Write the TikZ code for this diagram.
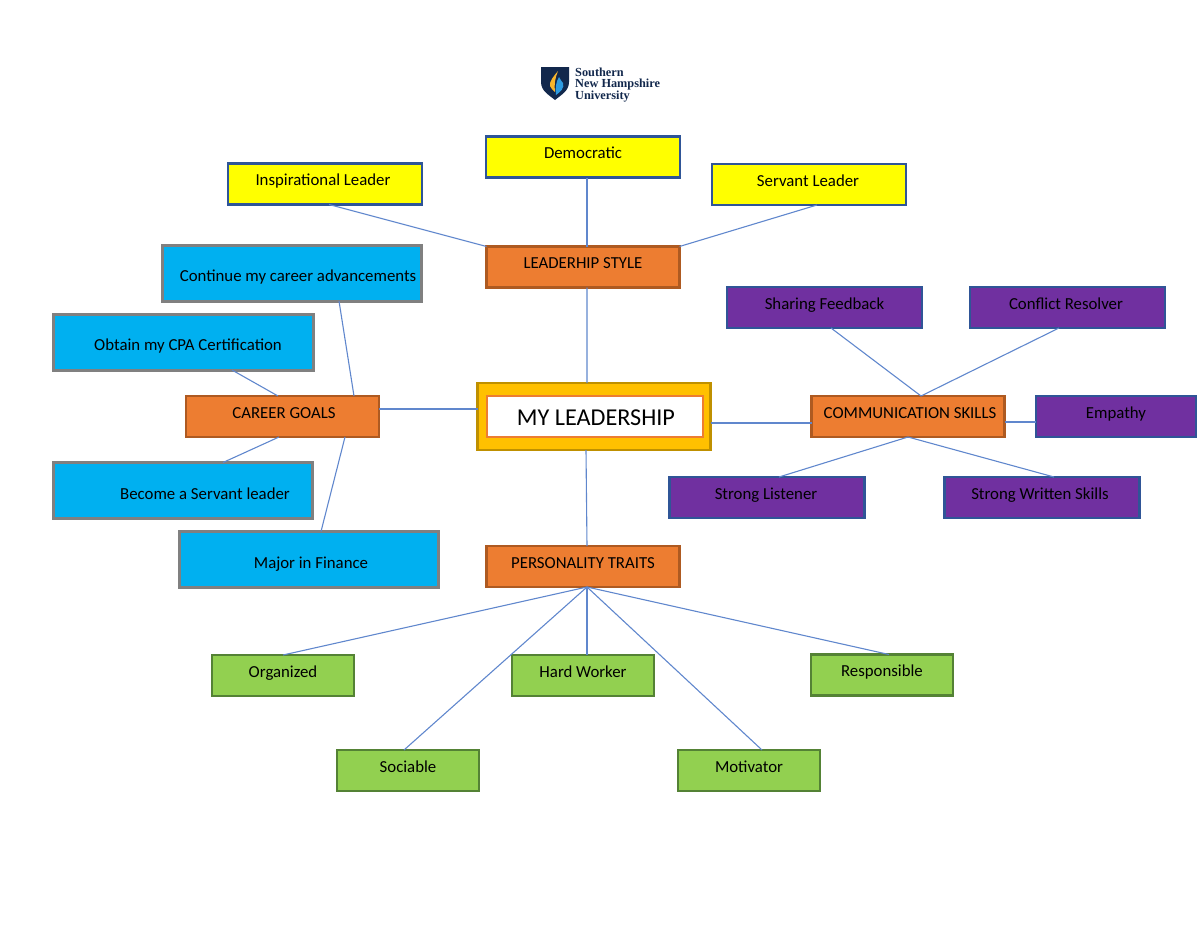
\documentclass[tikz,border=0pt]{standalone}
\usepackage{fontspec}
\setmainfont{Carlito}
\newfontfamily\logofont{Liberation Serif}
\definecolor{linkblue}{HTML}{4472C4}
\definecolor{darkblue}{HTML}{2F5597}
\definecolor{navy}{HTML}{12284C}
\definecolor{leaderyellow}{HTML}{FFFF00}
\definecolor{topicorange}{HTML}{ED7D31}
\definecolor{goalblue}{HTML}{00B0F0}
\definecolor{skillpurple}{HTML}{7030A0}
\definecolor{traitgreen}{HTML}{92D050}
\definecolor{flameyellow}{HTML}{F7B52C}
\definecolor{flameblue}{HTML}{2E9BE0}
\tikzset{
  box/.style={shape=rectangle, minimum height=41bp, inner sep=0pt, outer sep=0pt,
              line width=2.4bp, font=\fontsize{16.8bp}{19bp}\selectfont,
              text height=10bp, text depth=7bp},
  leader/.style={box, fill=leaderyellow, draw=darkblue, minimum width=194bp},
  topic/.style={box, fill=topicorange, draw={rgb,255:red,174;green,90;blue,33}, minimum width=193bp},
  goal/.style={box, fill=goalblue, draw=gray, line width=3bp, minimum width=259bp,
               minimum height=56bp, text height=17bp, text depth=0bp},
  skill/.style={box, fill=skillpurple, draw=darkblue, minimum width=195bp},
  trait/.style={box, fill=traitgreen, draw={rgb,255:red,84;green,130;blue,53}, minimum width=142bp},
  link/.style={draw=linkblue!85!white, line width=1.1bp}
}
\begin{document}
\begin{tikzpicture}[x=1bp,y=-1bp]
\useasboundingbox (0,0) rectangle (1200,927);

% logo
\fill[navy] (541,67) -- (569,67) -- (569,82) .. controls (569,91) and (561,95) .. (555,100)
  .. controls (549,95) and (541,91) .. (541,82) -- cycle;
\fill[flameblue] (559,77) .. controls (556,82) and (555,88) .. (556,95) .. controls (560,92) and (565,88) .. (563,83)
  .. controls (562,81) and (560,80) .. (559,77) -- cycle;
\fill[flameyellow] (558,71) .. controls (554,76) and (549,81) .. (550,86) .. controls (551,89) and (553,90) .. (555,92)
  .. controls (554,85) and (555,78) .. (558,71) -- cycle;
\node[anchor=north west, inner sep=0pt, align=left, text=navy,
      font=\logofont\bfseries\fontsize{12.3bp}{11.5bp}\selectfont] (logotext) at (575,67.5)
  {Southern\\New Hampshire\\University};

% center
\node[shape=rectangle, minimum width=233bp, minimum height=67bp, fill={rgb,255:red,255;green,192;blue,0},
      draw={rgb,255:red,191;green,144;blue,0}, line width=2.4bp, outer sep=0pt] (outer) at (594,416.5) {};
\node[shape=rectangle, minimum width=216bp, minimum height=41bp, fill=white,
      draw=topicorange, line width=1.8bp, outer sep=0pt, inner sep=0pt,
      text height=19bp, text depth=1bp,
      font=\fontsize{24.2bp}{27bp}\selectfont] (main) at (595,416.5) {\hspace*{2bp}MY LEADERSHIP};

% topics
\node[topic] (style) at (583,267) {LEADERHIP STYLE};
\node[topic] (career) at (282.5,416.5) {\hspace*{3bp}CAREER GOALS};
\node[topic] (comm) at (908,416.5) {\hspace*{4bp}COMMUNICATION SKILLS};
\node[topic] (traits) at (583,566.5) {PERSONALITY TRAITS};

% leadership style
\node[leader] (insp) at (325,184) {\hspace*{-4bp}Inspirational Leader};
\node[leader] (demo) at (583,157) {Democratic};
\node[leader] (serv) at (809,184.5) {\hspace*{-2bp}Servant Leader};

% career goals
\node[goal] (cont) at (291.5,273) {\hspace*{13bp}Continue my career advancements};
\node[goal] (cpa) at (183.5,342) {\hspace*{9bp}Obtain my CPA Certification};
\node[goal] (become) at (183,490.5) {\hspace*{44bp}Become a Servant leader};
\node[goal] (major) at (308.5,559.5) {\hspace*{5bp}Major in Finance};

% communication
\node[skill] (share) at (824.5,307.5) {Sharing Feedback};
\node[skill] (conf) at (1067.5,307.5) {\hspace*{-3bp}Conflict Resolver};
\node[skill, minimum width=160bp] (emp) at (1116,416.5) {Empathy};
\node[skill] (listen) at (767,497.5) {\hspace*{-2bp}Strong Listener};
\node[skill] (write) at (1042,497.5) {\hspace*{-4bp}Strong Written Skills};

% traits
\node[trait] (org) at (283,675.5) {Organized};
\node[trait] (hard) at (583,675.5) {Hard Worker};
\node[trait] (resp) at (882,675) {Responsible};
\node[trait] (soc) at (408,770.5) {Sociable};
\node[trait] (motiv) at (749,770.5) {Motivator};

%-----------------------------
\draw[link] ([xshift=4bp]demo.south) -- ([xshift=4bp]style.north);
\draw[link] ([xshift=4bp]style.south) -- ([xshift=-7bp]outer.north);
\draw[link] ([xshift=4bp]traits.north) -- ([xshift=-8bp]outer.south);
\draw[link] ([yshift=7.5bp]career.east) -- ([yshift=7.5bp]outer.west);
\draw[link] ([yshift=-6.5bp]outer.east) -- ([yshift=-6.5bp]comm.west);
%-----------------------------
\draw[link] ([xshift=4bp]insp.south) -- (style.north west);
\draw[link] ([xshift=8bp]serv.south) -- (style.north east);
%-----------------------------
\draw[link] ([xshift=47.5bp]cont.south) -- ([xshift=71.5bp]career.north);
\draw[link] ([xshift=48.5bp]cpa.south) -- ([xshift=-4.5bp]career.north);
\draw[link] ([xshift=40bp]become.north) -- ([xshift=-3.5bp]career.south);
\draw[link] ([xshift=12.5bp]major.north) -- ([xshift=62.5bp]career.south);
%-----------------------------
\draw[link] ([xshift=6.5bp]share.south) -- ([xshift=13bp]comm.north);
\draw[link] ([xshift=-8.5bp]conf.south) -- ([xshift=13bp]comm.north);
\draw[link] ([yshift=-5.5bp]comm.east) -- ([yshift=-5.5bp]emp.west);
\draw[link] ([xshift=12bp]listen.north) -- (comm.south);
\draw[link] ([xshift=12bp]write.north) -- (comm.south);
%-----------------------------
\draw[link] ([xshift=4bp]traits.south) -- (org.north);
\draw[link] ([xshift=4bp]traits.south) -- ([xshift=4bp]hard.north);
\draw[link] ([xshift=4bp]traits.south) -- ([xshift=7bp]resp.north);
\draw[link] ([xshift=4bp]traits.south) -- ([xshift=-4bp]soc.north);
\draw[link] ([xshift=4bp]traits.south) -- ([xshift=13bp]motiv.north);
\end{tikzpicture}
\end{document}
